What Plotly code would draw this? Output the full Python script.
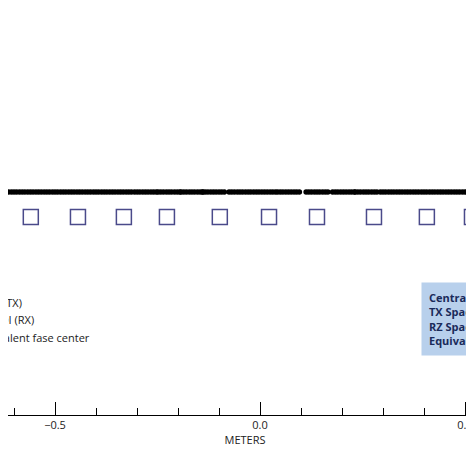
import plotly.graph_objects as go

# element positions in meters
rx_positions = [-1.28, -1.16, -1.04, -0.92, -0.80, -0.68, -0.559, -0.444, -0.332,
                -0.227, -0.098, 0.022, 0.139, 0.278, 0.407, 0.517, 0.64, 0.76,
                0.88, 1.00, 1.12, 1.24]
tx_positions = [-0.053, -0.040, -0.027, -0.013, 0.0, 0.013, 0.027, 0.040, 0.053]
legend_labels = ["Transmitter (TX)", "Receiver ROI (RX)", "Equivalent fase center"]
info_lines = ["Central frequency: 10 GHz", "TX Spacing: 1.33 cm",
              "RZ Spacing: 12 cm", "Equivalent spacing: 0.67 cm"]

# equivalent phase centre of every TX/RX pair
phase_centers = [(t + r) / 2 for r in rx_positions for t in tx_positions]

OFF = 8  # page body margin
W, H = 474, 474
AX_Y = 415 - OFF
B = H - AX_Y
def px(x):
    return (x - OFF) / W
def py(y):
    return 1 - (y - OFF) / AX_Y

fig = go.Figure()
fig.add_trace(go.Scatter(x=phase_centers, y=[py(192)] * len(phase_centers), mode="markers",
                         marker=dict(color="black", size=5.5), hoverinfo="x"))
fig.add_trace(go.Scatter(x=rx_positions, y=[py(217)] * len(rx_positions), mode="markers",
                         marker=dict(symbol="square-open", color="#4a4a8a", size=15,
                                     line=dict(width=1.5)),
                         hoverinfo="x"))

fig.update_layout(
    width=W, height=H, margin=dict(l=0, r=0, t=0, b=B),
    plot_bgcolor="white", paper_bgcolor="white", showlegend=False,
    font=dict(family="Open Sans, Liberation Sans", color="#222", size=11),
    xaxis=dict(range=[-252 / 410, (W - 252) / 410], showgrid=False, zeroline=False,
               showline=True, linecolor="black", linewidth=1,
               ticks="inside", ticklen=13, tickcolor="black", dtick=0.5,
               tickformat=".1f", tickfont=dict(size=11),
               minor=dict(ticks="inside", ticklen=7, dtick=0.1, tickcolor="black"),
               title=dict(text="METERS", font=dict(size=11), standoff=4)),
    yaxis=dict(range=[0, 1], visible=False),
)

legend_right = [24, 36, 92]
legend_y = [302, 319, 337]
for txt, xr, yy in zip(legend_labels, legend_right, legend_y):
    fig.add_annotation(x=px(xr), y=py(yy), xref="paper", yref="paper", text=txt,
                       showarrow=False, xanchor="right", yanchor="middle",
                       font=dict(size=11, color="#222"))

fig.add_annotation(x=px(421), y=py(282), xref="paper", yref="paper",
                   text="<br>".join("<b>%s</b>" % s for s in info_lines),
                   showarrow=False, xanchor="left", yanchor="top", align="left",
                   bgcolor="#b8d0ec", borderpad=7,
                   font=dict(size=11, color="#1a2a5a"))

fig.write_html("out.html")
